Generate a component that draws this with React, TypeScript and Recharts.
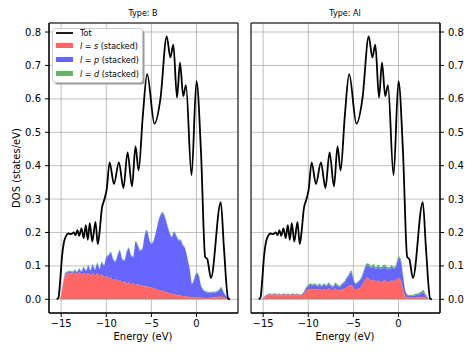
import React from 'react';
import {
  ComposedChart,
  Area,
  Line,
  XAxis,
  YAxis,
  CartesianGrid,
  ReferenceArea,
} from 'recharts';

// energy grid used by the stacked projections (eV)
const energy = [
  -15.5, -15.25, -15, -14.75, -14.5, -14.25, -14, -13.75, -13.5, -13.25,
  -13, -12.75, -12.5, -12.25, -12, -11.75, -11.5, -11.25, -11, -10.75,
  -10.5, -10.25, -10, -9.75, -9.5, -9.25, -9, -8.75, -8.5, -8.25,
  -8, -7.75, -7.5, -7.25, -7, -6.75, -6.5, -6.25, -6, -5.75,
  -5.5, -5.25, -5, -4.75, -4.5, -4.25, -4, -3.75, -3.5, -3.25,
  -3, -2.75, -2.5, -2.25, -2, -1.75, -1.5, -1.25, -1, -0.75,
  -0.5, -0.25, 0, 0.25, 0.5, 0.75, 1, 1.25, 1.5, 1.75,
  2, 2.25, 2.5, 2.75, 3, 3.25, 3.5, 3.75,
];

// Type B projections
const bS = [
  0, 0, 0.01, 0.05, 0.074, 0.077, 0.078, 0.077, 0.079, 0.075,
  0.08, 0.074, 0.079, 0.073, 0.078, 0.072, 0.078, 0.071, 0.077, 0.07,
  0.074, 0.066, 0.07, 0.062, 0.066, 0.057, 0.06, 0.054, 0.058, 0.05,
  0.053, 0.047, 0.05, 0.044, 0.047, 0.042, 0.045, 0.04, 0.041, 0.038,
  0.039, 0.035, 0.036, 0.032, 0.031, 0.028, 0.026, 0.024, 0.022, 0.02,
  0.018, 0.016, 0.015, 0.013, 0.012, 0.011, 0.01, 0.009, 0.008, 0.007,
  0.006, 0.006, 0.006, 0.005, 0.005, 0.005, 0.004, 0.004, 0.005, 0.005,
  0.006, 0.007, 0.008, 0.008, 0.006, 0.003, 0.001, 0,
];
const bP = [
  0, 0, 0.002, 0.005, 0.005, 0.004, 0.005, 0.003, 0.007, 0.005,
  0.01, 0.008, 0.016, 0.011, 0.022, 0.014, 0.025, 0.017, 0.03, 0.02,
  0.036, 0.034, 0.055, 0.068, 0.074, 0.063, 0.052, 0.076, 0.087, 0.07,
  0.062, 0.093, 0.102, 0.086, 0.078, 0.13, 0.115, 0.105, 0.109, 0.152,
  0.166, 0.145, 0.129, 0.143, 0.169, 0.202, 0.224, 0.233, 0.223, 0.202,
  0.182, 0.169, 0.185, 0.177, 0.165, 0.164, 0.15, 0.141, 0.112, 0.083,
  0.039, 0.054, 0.071, 0.065, 0.035, 0.022, 0.018, 0.016, 0.013, 0.015,
  0.014, 0.015, 0.019, 0.026, 0.014, 0.007, 0.002, 0,
];
const bD = [
  0, 0, 0.001, 0.002, 0.003, 0.003, 0.003, 0.003, 0.003, 0.003,
  0.003, 0.003, 0.003, 0.003, 0.003, 0.003, 0.003, 0.003, 0.003, 0.003,
  0.003, 0.003, 0.003, 0.003, 0.003, 0.003, 0.003, 0.003, 0.003, 0.003,
  0.003, 0.003, 0.003, 0.003, 0.003, 0.003, 0.003, 0.003, 0.003, 0.003,
  0.003, 0.003, 0.003, 0.003, 0.003, 0.003, 0.004, 0.004, 0.004, 0.003,
  0.003, 0.003, 0.003, 0.003, 0.003, 0.003, 0.003, 0.003, 0.003, 0.003,
  0.003, 0.003, 0.003, 0.003, 0.003, 0.003, 0.003, 0.003, 0.003, 0.003,
  0.003, 0.003, 0.003, 0.003, 0.003, 0.002, 0.001, 0,
];

// Type Al projections
const alS = [
  0, 0, 0.002, 0.008, 0.012, 0.013, 0.012, 0.014, 0.012, 0.013,
  0.011, 0.014, 0.012, 0.013, 0.011, 0.014, 0.012, 0.013, 0.011, 0.012,
  0.016, 0.025, 0.03, 0.031, 0.029, 0.031, 0.028, 0.031, 0.027, 0.031,
  0.028, 0.032, 0.028, 0.026, 0.032, 0.028, 0.026, 0.03, 0.031, 0.035,
  0.04, 0.043, 0.035, 0.028, 0.03, 0.034, 0.045, 0.055, 0.065, 0.06,
  0.055, 0.058, 0.052, 0.056, 0.05, 0.054, 0.056, 0.051, 0.052, 0.056,
  0.054, 0.058, 0.063, 0.057, 0.03, 0.01, 0.006, 0.005, 0.005, 0.005,
  0.005, 0.006, 0.006, 0.007, 0.005, 0.002, 0, 0,
];
const alP = [
  0, 0, 0.001, 0.002, 0.002, 0.002, 0.002, 0.002, 0.002, 0.002,
  0.002, 0.002, 0.002, 0.002, 0.002, 0.002, 0.002, 0.002, 0.002, 0.002,
  0.004, 0.007, 0.01, 0.012, 0.012, 0.013, 0.011, 0.012, 0.011, 0.013,
  0.011, 0.014, 0.012, 0.01, 0.014, 0.012, 0.011, 0.015, 0.019, 0.027,
  0.032, 0.039, 0.025, 0.017, 0.02, 0.023, 0.025, 0.035, 0.037, 0.04,
  0.039, 0.042, 0.038, 0.042, 0.04, 0.04, 0.042, 0.039, 0.038, 0.041,
  0.036, 0.042, 0.059, 0.058, 0.04, 0.015, 0.006, 0.005, 0.005, 0.007,
  0.008, 0.009, 0.012, 0.015, 0.007, 0.002, 0, 0,
];
const alD = [
  0, 0, 0.001, 0.002, 0.002, 0.002, 0.002, 0.002, 0.002, 0.002,
  0.002, 0.002, 0.002, 0.002, 0.002, 0.002, 0.002, 0.002, 0.002, 0.002,
  0.003, 0.004, 0.004, 0.004, 0.004, 0.004, 0.004, 0.004, 0.004, 0.004,
  0.004, 0.004, 0.004, 0.004, 0.004, 0.004, 0.004, 0.004, 0.004, 0.004,
  0.004, 0.005, 0.004, 0.004, 0.004, 0.004, 0.005, 0.006, 0.006, 0.006,
  0.006, 0.006, 0.006, 0.006, 0.006, 0.006, 0.006, 0.006, 0.006, 0.006,
  0.006, 0.006, 0.007, 0.006, 0.004, 0.003, 0.003, 0.003, 0.003, 0.003,
  0.004, 0.004, 0.005, 0.006, 0.004, 0.002, 0, 0,
];

// total DOS (same in both panels)
const totEnergy = [
  -15.5, -15.3, -15.1, -14.9, -14.7, -14.45, -14.2, -13.9, -13.6, -13.4,
  -13.2, -13.0, -12.75, -12.5, -12.27, -12.05, -11.83, -11.55, -11.2, -10.95,
  -10.75, -10.5, -10.2, -9.95, -9.63, -9.15, -8.6, -8.1, -7.64, -7.15,
  -6.76, -6.42, -5.95, -5.47, -4.66, -4.0, -3.3, -2.9, -2.57, -2.16,
  -1.83, -1.47, -1.17, -0.55, 0, 0.5, 0.96, 1.2, 1.6, 2.69,
  3.05, 3.5, 3.7,
];
const totDos = [
  0, 0.005, 0.06, 0.13, 0.17, 0.19, 0.197, 0.195, 0.2, 0.192,
  0.207, 0.19, 0.212, 0.183, 0.222, 0.178, 0.228, 0.173, 0.232, 0.165,
  0.2, 0.27, 0.3, 0.33, 0.41, 0.345, 0.41, 0.333, 0.44, 0.338,
  0.458, 0.386, 0.55, 0.674, 0.526, 0.6, 0.787, 0.724, 0.762, 0.604,
  0.708, 0.608, 0.641, 0.371, 0.653, 0.44, 0.127, 0.12, 0.064, 0.291,
  0.15, 0.003, 0,
];

const xTicks = [-15, -10, -5, 0];
const yTicks = [0, 0.1, 0.2, 0.3, 0.4, 0.5, 0.6, 0.7, 0.8];
const X_DOMAIN: [number, number] = [-16.35, 4.6];
const Y_DOMAIN: [number, number] = [-0.041, 0.827];

const RED = '#ff6666';
const BLUE = '#6666ff';
const GREEN = '#66b366';
const FONT = '"DejaVu Sans", sans-serif';

const totRows = totEnergy.map((e, i) => ({ e, tot: totDos[i] }));
const rowsB = energy.map((e, i) => ({ e, s: bS[i], p: bP[i], d: bD[i] }));
const rowsAl = energy.map((e, i) => ({ e, s: alS[i], p: alP[i], d: alD[i] }));

const fmtX = (v: number) => (v < 0 ? `\u2212${-v}` : `${v}`);

function Panel({ rows, side, width, margin, yWidth }: any) {
  return (
    <ComposedChart width={width} height={355} data={rows} margin={margin}>
      <CartesianGrid stroke="#b0b0b0" strokeWidth={0.8} />
      <XAxis
        dataKey="e"
        type="number"
        domain={X_DOMAIN}
        allowDataOverflow
        ticks={xTicks}
        tickFormatter={fmtX}
        height={42}
        tickSize={4}
        tickMargin={3}
        tick={{ fill: '#000', fontSize: 10 }}
        tickLine={{ stroke: '#000' }}
        axisLine={{ stroke: '#000' }}
      />
      <YAxis
        orientation={side}
        type="number"
        domain={Y_DOMAIN}
        allowDataOverflow
        ticks={yTicks}
        tickFormatter={(v: number) => v.toFixed(1)}
        width={yWidth}
        tickSize={4}
        tickMargin={4}
        tick={{ fill: '#000', fontSize: 10 }}
        tickLine={{ stroke: '#000' }}
        axisLine={{ stroke: '#000' }}
      />
      <Area type="monotone" dataKey="s" stackId="1" fill={RED} fillOpacity={1} stroke="none" isAnimationActive={false} />
      <Area type="monotone" dataKey="p" stackId="1" fill={BLUE} fillOpacity={1} stroke="none" isAnimationActive={false} />
      <Area type="monotone" dataKey="d" stackId="1" fill={GREEN} fillOpacity={1} stroke="none" isAnimationActive={false} />
      <Line
        data={totRows}
        type="monotone"
        dataKey="tot"
        stroke="#000"
        strokeWidth={1.8}
        dot={false}
        isAnimationActive={false}
      />
      <ReferenceArea x1={X_DOMAIN[0]} x2={X_DOMAIN[1]} y1={Y_DOMAIN[0]} y2={Y_DOMAIN[1]} fill="none" stroke="#000" strokeWidth={1} />
    </ComposedChart>
  );
}

function Legend() {
  const rows = [
    { y: 18, c: RED, t: 's' },
    { y: 32, c: BLUE, t: 'p' },
    { y: 46, c: GREEN, t: 'd' },
  ];
  return (
    <svg width={92} height={56} style={{ position: 'absolute', left: 52, top: 28, overflow: 'visible' }}>
      <rect x={2.5} y={2.5} width={90} height={54} rx={3} fill="#9a9a9a" />
      <rect x={0.5} y={0.5} width={90} height={54} rx={3} fill="#fff" stroke="#cccccc" />
      <line x1={4} x2={21} y1={5} y2={5} stroke="#000" strokeWidth={1.8} />
      <text x={28} y={8} fontSize={8} fill="#000">Tot</text>
      {rows.map((r) => (
        <g key={r.t}>
          <rect x={4} y={r.y - 3} width={17} height={5} fill={r.c} />
          <text x={28} y={r.y + 3} fontSize={8} fill="#000">
            <tspan fontStyle="italic">l</tspan>
            <tspan> = </tspan>
            <tspan fontStyle="italic">{r.t}</tspan>
            <tspan> (stacked)</tspan>
          </text>
        </g>
      ))}
    </svg>
  );
}

export default function App() {
  const abs = (style: React.CSSProperties): React.CSSProperties => ({ position: 'absolute', ...style });
  return (
    <div style={{ position: 'absolute', left: 0, top: 0, width: 474, height: 355, background: '#fff', fontFamily: FONT }}>
      <div style={abs({ left: 0, top: 0 })}>
        <Panel rows={rowsB} side="left" width={240} yWidth={49} margin={{ top: 23, right: 2, bottom: 0, left: 0 }} />
      </div>
      <div style={abs({ left: 240, top: 0 })}>
        <Panel rows={rowsAl} side="right" width={234} yWidth={34} margin={{ top: 23, right: 0, bottom: 0, left: 11 }} />
      </div>
      <Legend />
      <div style={abs({ left: 93, width: 100, top: 9, fontSize: 8, textAlign: 'center', lineHeight: '10px' })}>Type: B</div>
      <div style={abs({ left: 295, width: 100, top: 9, fontSize: 8, textAlign: 'center', lineHeight: '10px' })}>Type: Al</div>
      <div style={abs({ left: 83, width: 120, top: 331, fontSize: 10, textAlign: 'center', lineHeight: '12px' })}>Energy (eV)</div>
      <div style={abs({ left: 285, width: 120, top: 331, fontSize: 10, textAlign: 'center', lineHeight: '12px' })}>Energy (eV)</div>
      <div
        style={abs({
          left: 17 - 60,
          top: 168 - 6,
          width: 120,
          fontSize: 10,
          textAlign: 'center',
          lineHeight: '12px',
          transform: 'rotate(-90deg)',
        })}
      >
        DOS (states/eV)
      </div>
    </div>
  );
}
